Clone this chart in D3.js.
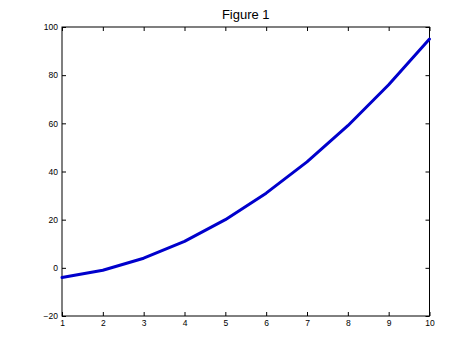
<!DOCTYPE html>
<html><head><meta charset="utf-8">
<script src="https://cdn.jsdelivr.net/npm/d3@7"></script>
<style>body{margin:0;background:#fff}svg{display:block}text{font-family:"Liberation Sans",Arial,Helvetica,sans-serif}</style>
</head><body>
<svg id="c" width="474" height="355"></svg>
<script>
const xValues = [1,2,3,4,5,6,7,8,9,10];
const yValues = [-4,-1,4,11,20,31,44,59,76,95];
const xTicks = [1,2,3,4,5,6,7,8,9,10];
const yTicks = [-20,0,20,40,60,80,100];
const title = "Figure 1";

const svg = d3.select("#c");
const L=62,R=429.5,T=27,B=316;
const x = d3.scaleLinear().domain([1,10]).range([L,R]);
const y = d3.scaleLinear().domain([-20,100]).range([B,T]);

svg.append("rect").attr("x",L).attr("y",T).attr("width",R-L).attr("height",B-T).attr("fill","#fff");

const tl=4;
const styleAxis = g => { g.select(".domain").remove(); g.selectAll("line").attr("stroke","#000"); g.selectAll("text").attr("font-size","8.5px").attr("fill","#000"); };
svg.append("g").attr("transform",`translate(0,${B})`).call(d3.axisBottom(x).tickValues(xTicks).tickSize(-tl).tickPadding(4).tickFormat(d3.format("d"))).call(styleAxis);
svg.append("g").attr("transform",`translate(0,${T})`).call(d3.axisTop(x).tickValues(xTicks).tickSize(-tl).tickFormat("")).call(styleAxis);
svg.append("g").attr("transform",`translate(${L},0)`).call(d3.axisLeft(y).tickValues(yTicks).tickSize(-tl).tickPadding(4).tickFormat(d3.format("d"))).call(styleAxis);
svg.append("g").attr("transform",`translate(${R},0)`).call(d3.axisRight(y).tickValues(yTicks).tickSize(-tl).tickFormat("")).call(styleAxis);

svg.append("rect").attr("x",L).attr("y",T).attr("width",R-L).attr("height",B-T).attr("fill","none").attr("stroke","#000").attr("stroke-width",1);

const line = d3.line().x((d,i)=>x(xValues[i])).y(d=>y(d));
svg.append("path").datum(yValues).attr("d",line).attr("fill","none").attr("stroke","#0000cc").attr("stroke-width",3).attr("stroke-linejoin","round").attr("stroke-linecap","round");

svg.append("text").attr("x",(L+R)/2).attr("y",19).attr("text-anchor","middle").attr("font-size","13px").attr("fill","#000").text(title);
</script>
</body></html>
